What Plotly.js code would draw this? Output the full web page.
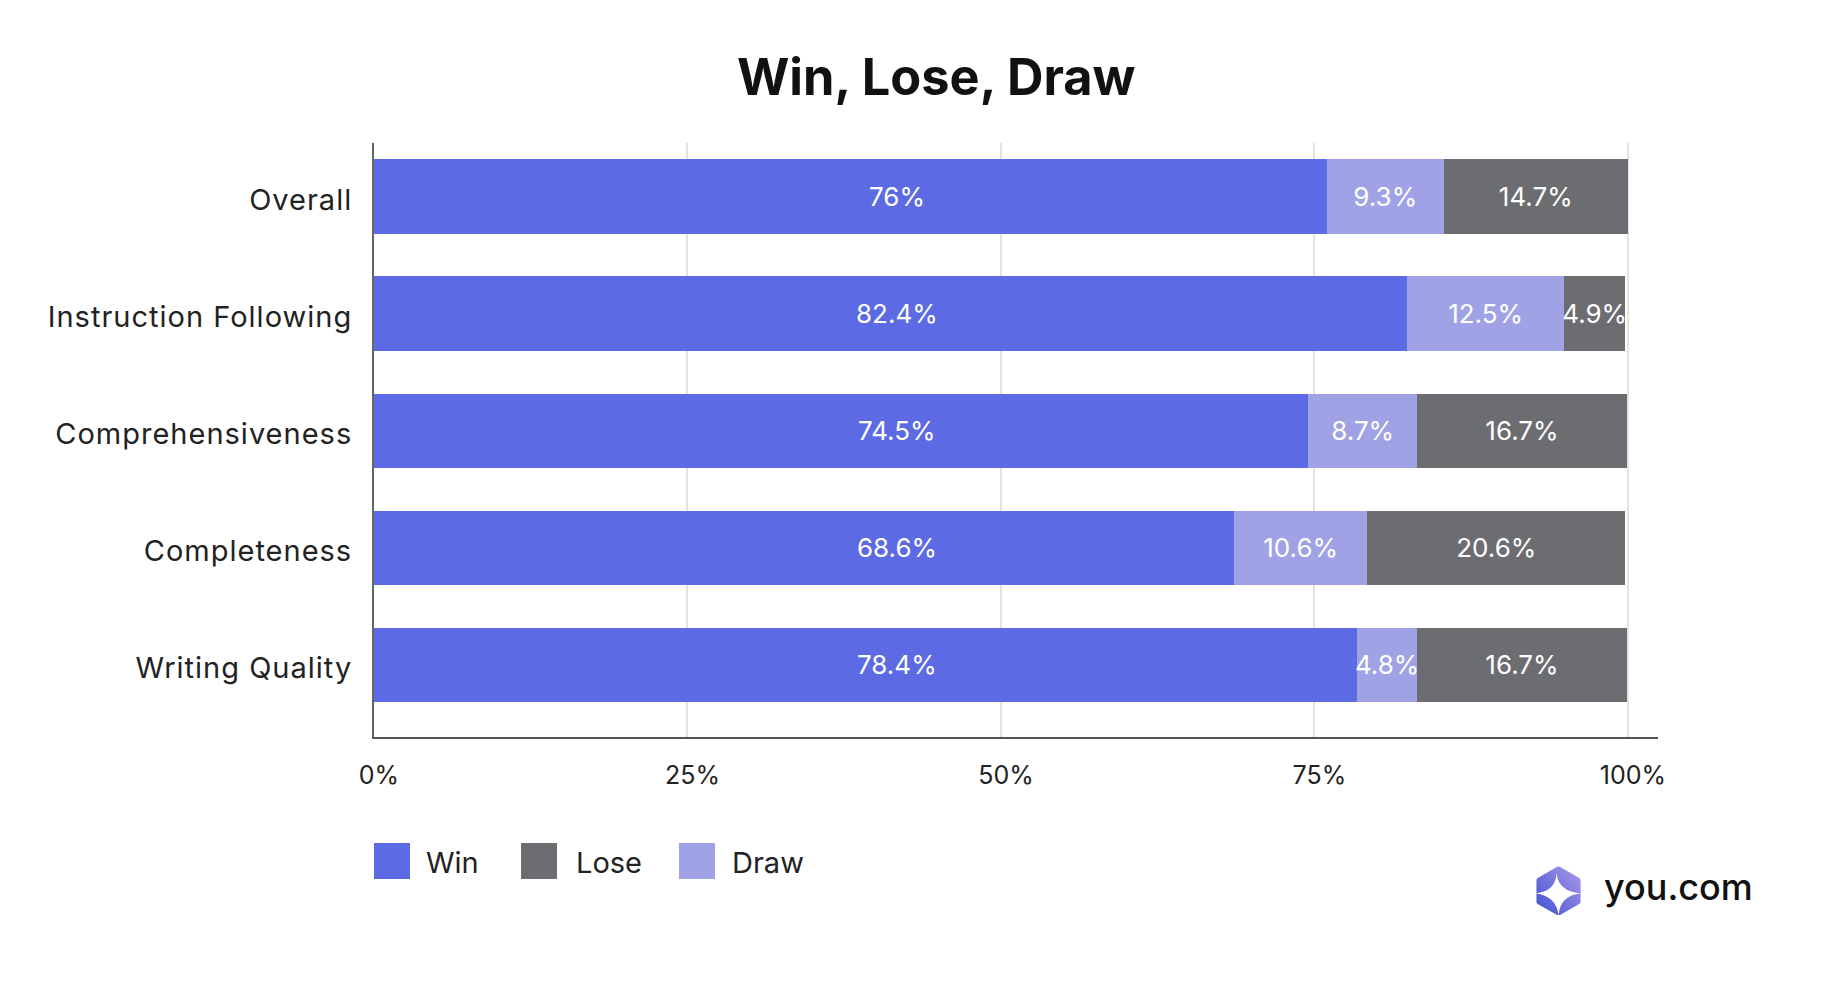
<!DOCTYPE html>
<html><head><meta charset="utf-8">
<script src="https://cdn.plot.ly/plotly-3.0.1.min.js"></script>
<style>html,body{margin:0;padding:0;background:#fff}#chart{width:1843px;height:996px}
.ytick text{letter-spacing:1px}
</style>
</head><body><div id="chart"></div>
<script>
// ---- data ----
const categories = ['Overall', 'Instruction Following', 'Comprehensiveness', 'Completeness', 'Writing Quality'];
const winValues  = [76, 82.4, 74.5, 68.6, 78.4];
const drawValues = [9.3, 12.5, 8.7, 10.6, 4.8];
const loseValues = [14.7, 4.9, 16.7, 20.6, 16.7];
const xTickValues = [0, 25, 50, 75, 100];
const xTickLabels = ['0%', '25%', '50%', '75%', '100%'];
const legendNames = ['Win', 'Lose', 'Draw'];
const chartTitle = 'Win, Lose, Draw';
const brandText = 'you.com';

// ---- styles ----
const COLORS = {Win: '#5C6AE3', Lose: '#6C6D71', Draw: '#A0A2E6'};
const FONT = 'Inter, "Noto Sans", Roboto, sans-serif';
const WIN_LABEL_X = 41.7;
const fmt = v => v + '%';

const barCommon = {
  type: 'bar', orientation: 'h', y: categories,
  textposition: 'inside', insidetextanchor: 'middle', constraintext: 'none', textangle: 0,
  textfont: {family: FONT, size: 26, color: '#ffffff'},
  hoverinfo: 'skip', showlegend: false
};

const traces = [
  Object.assign({}, barCommon, {name: 'Win', x: winValues, marker: {color: COLORS.Win, line: {width: 0}}, textposition: 'none'}),
  Object.assign({}, barCommon, {name: 'Draw', x: drawValues, marker: {color: COLORS.Draw, line: {width: 0}}, text: drawValues.map(fmt)}),
  Object.assign({}, barCommon, {name: 'Lose', x: loseValues, marker: {color: COLORS.Lose, line: {width: 0}}, text: loseValues.map(fmt)})
];

const annotations = categories.map((c, i) => ({
  x: WIN_LABEL_X, y: c, xref: 'x', yref: 'y', text: fmt(winValues[i]), showarrow: false,
  font: {family: FONT, size: 26, color: '#ffffff'}, xanchor: 'center', yanchor: 'middle'
}));

// manual legend (large squares)
const PLOT_L = 374, PLOT_W = 1284, PLOT_B = 737, PLOT_H = 594;
const px2x = px => (px - PLOT_L) / PLOT_W;
const py2y = py => (PLOT_B - py) / PLOT_H;
const legendSquareLeft = [374, 521, 679];
const legendTextLeft = [424, 574, 730];
const legendCenterY = 861;
const shapes = [];
legendNames.forEach((n, i) => {
  shapes.push({
    type: 'rect', xref: 'paper', yref: 'paper', xsizemode: 'pixel', ysizemode: 'pixel',
    xanchor: px2x(legendSquareLeft[i]), yanchor: py2y(legendCenterY),
    x0: 0, x1: 36, y0: -18, y1: 18, fillcolor: COLORS[n], line: {width: 0}
  });
  annotations.push({
    xref: 'paper', yref: 'paper', x: px2x(legendTextLeft[i]), y: py2y(legendCenterY + 1),
    xanchor: 'left', yanchor: 'middle', showarrow: false, text: n,
    font: {family: FONT, size: 29, color: '#222222'}
  });
});

// brand text
annotations.push({
  xref: 'paper', yref: 'paper', x: px2x(1602), y: py2y(887), xanchor: 'left', yanchor: 'middle',
  showarrow: false, text: brandText, font: {family: FONT, size: 36, color: '#111111', weight: 500}
});

// brand icon as svg image
const iconSvg = '<svg xmlns="http://www.w3.org/2000/svg" viewBox="0 0 100 100">' +
  '<defs><linearGradient id="g" x1="1" y1="0" x2="0" y2="1">' +
  '<stop offset="0" stop-color="#A597E8"/><stop offset="1" stop-color="#4653D3"/></linearGradient></defs>' +
  '<polygon points="50,6 90,29 90,73 50,96 10,73 10,29" fill="url(#g)" stroke="url(#g)" stroke-width="10" stroke-linejoin="round"/>' +
  '<path d="M46,14 Q49,52 95,56 Q53,60 50,101 Q46,61 3,56 Q45,52 46,14 Z" fill="#ffffff"/>' +
  '</svg>';
const images = [{
  source: 'data:image/svg+xml;charset=utf-8,' + encodeURIComponent(iconSvg),
  xref: 'paper', yref: 'paper', x: px2x(1534), y: py2y(866), sizex: 49 / PLOT_W, sizey: 49 / PLOT_H,
  xanchor: 'left', yanchor: 'top', sizing: 'stretch', layer: 'above'
}];

const layout = {
  width: 1843, height: 996,
  paper_bgcolor: '#ffffff', plot_bgcolor: '#ffffff',
  margin: {l: 374, r: 185, t: 143, b: 259, pad: 0},
  barmode: 'stack', bargap: 0.367,
  showlegend: false,
  title: {
    text: '<b>' + chartTitle + '</b>', xref: 'container', yref: 'container',
    x: 0.508, y: 0.922, xanchor: 'center', yanchor: 'middle',
    font: {family: FONT, size: 50.5, color: '#111111'}
  },
  xaxis: {
    range: [0, 102.4], tickmode: 'array', tickvals: xTickValues, ticktext: xTickLabels,
    showgrid: true, gridcolor: '#E3E3E3', gridwidth: 2, zeroline: false,
    showline: true, linecolor: '#555555', linewidth: 2, ticks: '',
    ticklabelstandoff: 15, ticklabelshift: 5,
    tickfont: {family: FONT, size: 25, color: '#222222'},
    fixedrange: true
  },
  yaxis: {
    type: 'category', categoryorder: 'array', categoryarray: categories,
    range: [4.618, -0.457], showgrid: false, zeroline: false,
    showline: true, linecolor: '#666666', linewidth: 2, ticks: '',
    ticklabelstandoff: 14, ticklabelshift: -3,
    tickfont: {family: FONT, size: 29, color: '#222222'},
    fixedrange: true
  },
  annotations: annotations, shapes: shapes, images: images
};

Plotly.newPlot('chart', traces, layout, {displayModeBar: false, staticPlot: true});
</script>
</body></html>
